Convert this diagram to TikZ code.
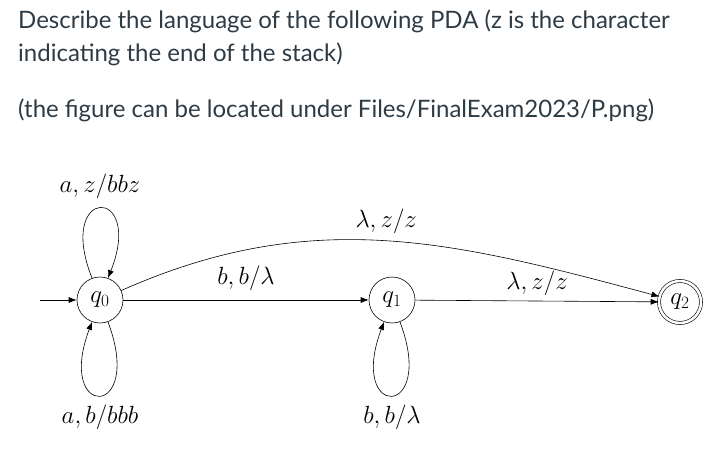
\documentclass[tikz,border=0pt]{standalone}
\usepackage{fontspec}
\setmainfont{Lato}
\usetikzlibrary{arrows.meta}
\definecolor{tc}{HTML}{2D3B45}
\begin{document}
\begin{tikzpicture}[x=1pt,y=-1pt,
  st/.style={circle,draw,line width=0.6pt,minimum size=46pt,inner sep=0pt,font=\fontsize{24}{24}\selectfont},
  acc/.style={st,double,double distance=2.5pt,minimum size=42pt},
  edge/.style={-{Latex[length=8pt,width=6pt]},line width=0.6pt},
  lab/.style={font=\fontsize{24}{24}\selectfont},
  txt/.style={anchor=base west,inner sep=0pt,font=\fontsize{24}{28}\selectfont,text=tc}]
\useasboundingbox (0,0) rectangle (717,460);
\node[txt] (t1) at (18,29) {Describe the language of the following PDA (z is the character};
\node[txt] (t2) at (18,62) {indicating the end of the stack)};
\node[txt] (t3) at (18,117) {(the figure can be located under Files/FinalExam2023/P.png)};
\node[st] (q0) at (100,300) {$q_0$};
\node[st] (q1) at (392,300) {$q_1$};
\node[acc] (q2) at (680,302) {$q_2$};
\coordinate (s) at (40,300);
\draw[edge] (s) -- (q0);
\draw[edge] (q0) -- node[lab,above=6pt,pos=0.5] {$b,b/\lambda$} (q1);
\draw[edge] (q1) -- node[lab,above=2pt,pos=0.5] {$\lambda,z/z$} (q2);
\draw[edge] (q0) to[out=24,in=165] node[lab,above=4pt] {$\lambda,z/z$} (q2);
\draw[edge] (q0.110) .. controls (55,185) and (145,185) .. node[lab,above=6pt] {$a,z/bbz$} (q0.70);
\draw[edge] (q0.290) .. controls (145,420) and (55,420) .. node[lab,below=6pt] {$a,b/bbb$} (q0.250);
\draw[edge] (q1.290) .. controls (437,420) and (347,420) .. node[lab,below=6pt] {$b,b/\lambda$} (q1.250);
\end{tikzpicture}
\end{document}
